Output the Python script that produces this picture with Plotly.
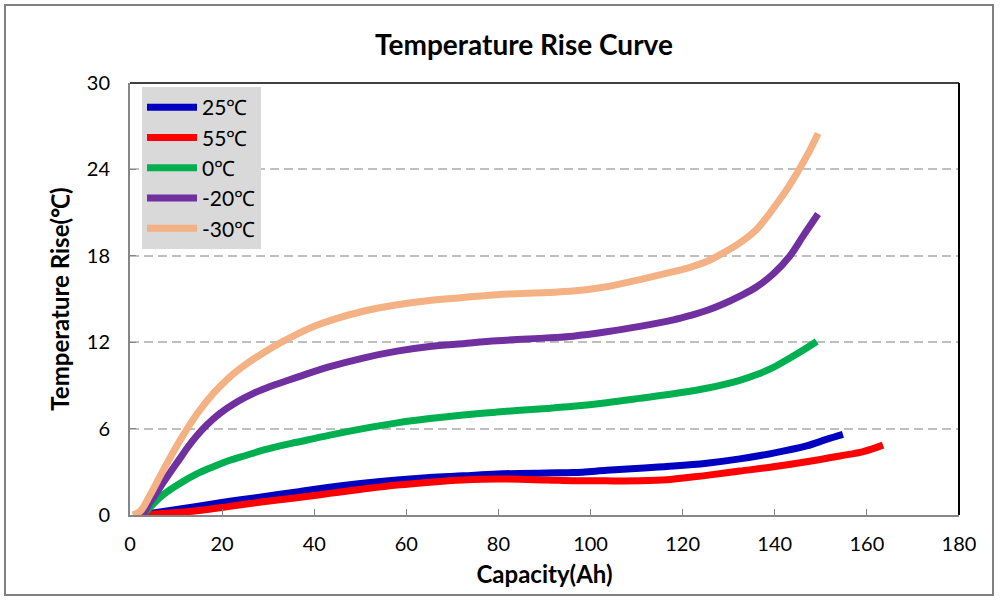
import plotly.graph_objects as go

# ---- data ----
x_25 = [2.0, 8.0, 14.5, 21.7, 28.9, 36.2, 43.4, 50.6, 58.0, 65.1, 72.3, 79.7, 90.5, 96.2, 103.5, 110.7, 118.0, 125.2, 132.4, 139.7, 146.9, 151.2, 154.8]
y_25 = [0.0, 0.28, 0.6, 0.95, 1.27, 1.6, 1.93, 2.2, 2.43, 2.6, 2.72, 2.85, 2.92, 2.95, 3.1, 3.25, 3.4, 3.6, 3.9, 4.3, 4.8, 5.25, 5.6]

x_55 = [2.2, 8.0, 14.5, 21.7, 28.9, 36.2, 43.4, 50.6, 58.0, 65.1, 72.3, 79.7, 90.5, 96.2, 103.5, 110.7, 116.6, 121.6, 125.2, 132.4, 139.7, 146.9, 154.1, 159.2, 163.5]
y_55 = [0.0, 0.12, 0.3, 0.6, 0.92, 1.2, 1.5, 1.8, 2.08, 2.28, 2.43, 2.5, 2.43, 2.38, 2.37, 2.38, 2.45, 2.62, 2.75, 3.05, 3.35, 3.7, 4.1, 4.4, 4.85]

x_0 = [2.9, 5.0, 7.2, 10.9, 14.5, 18.1, 21.7, 25.3, 28.9, 32.6, 36.2, 43.4, 50.6, 58.0, 65.1, 72.3, 79.7, 90.5, 96.2, 103.5, 110.7, 118.0, 125.2, 132.4, 136.1, 139.7, 143.3, 146.9, 149.1]
y_0 = [0.05, 0.75, 1.4, 2.2, 2.85, 3.35, 3.8, 4.15, 4.5, 4.8, 5.05, 5.55, 6.0, 6.4, 6.7, 6.95, 7.15, 7.4, 7.55, 7.8, 8.1, 8.42, 8.8, 9.35, 9.75, 10.25, 10.9, 11.6, 12.05]

x_m20 = [2.9, 4.3, 5.8, 7.2, 8.7, 10.9, 12.3, 14.5, 16.5, 19.5, 23.2, 26.8, 30.4, 34.0, 37.5, 43.4, 50.6, 58.0, 65.1, 72.3, 79.7, 90.5, 96.2, 103.5, 110.7, 118.0, 121.6, 125.2, 128.8, 132.4, 136.1, 139.7, 143.3, 146.2, 149.4]
y_m20 = [0.05, 0.85, 1.55, 2.25, 2.95, 3.95, 4.6, 5.5, 6.2, 7.05, 7.85, 8.45, 8.92, 9.32, 9.7, 10.3, 10.9, 11.38, 11.7, 11.9, 12.1, 12.3, 12.42, 12.72, 13.1, 13.55, 13.85, 14.2, 14.65, 15.2, 15.85, 16.75, 18.0, 19.4, 20.9]

x_m30 = [0.6, 2.2, 4.3, 7.2, 10.9, 14.5, 18.1, 21.7, 25.3, 28.9, 32.6, 36.2, 40.0, 43.4, 50.6, 58.0, 65.0, 72.3, 79.7, 90.5, 96.2, 103.5, 110.7, 118.0, 121.6, 125.2, 128.8, 132.4, 136.1, 139.7, 143.3, 146.9, 149.4]
y_m30 = [0.0, 0.25, 1.35, 3.1, 5.2, 7.0, 8.45, 9.6, 10.5, 11.25, 11.95, 12.55, 13.1, 13.5, 14.15, 14.6, 14.9, 15.1, 15.3, 15.45, 15.55, 15.85, 16.35, 16.9, 17.2, 17.6, 18.2, 18.9, 19.85, 21.3, 22.95, 24.9, 26.5]

series_names = ["25℃", "55℃", "0℃", "-20℃", "-30℃"]
series_x = [x_25, x_55, x_0, x_m20, x_m30]
series_y = [y_25, y_55, y_0, y_m20, y_m30]
series_colors = ["#0000c0", "#ff0000", "#00b050", "#7030a0", "#f4b183"]

x_ticks = [0, 20, 40, 60, 80, 100, 120, 140, 160, 180]
y_ticks = [0, 6, 12, 18, 24, 30]

FONT = "Lato"

fig = go.Figure()
for i, (name, xs, ys, col) in enumerate(zip(series_names, series_x, series_y, series_colors)):
    fig.add_trace(go.Scatter(
        x=xs, y=ys, mode="lines", name=name, legendgroup=f"g{i}",
        line=dict(color=col, width=7, shape="spline", smoothing=1.0),
    ))

ML, MR, MT, MB = 130, 41, 83, 87
W, H = 1000, 602
pw, ph = W - ML - MR, H - MT - MB

def px_to_paper_x(px):
    return (px - ML) / pw

def py_to_paper_y(py):
    return (H - MB - py) / ph

fig.update_layout(
    width=W, height=H,
    margin=dict(l=ML, r=MR, t=MT, b=MB),
    paper_bgcolor="white", plot_bgcolor="white",
    font=dict(family=FONT, color="black", size=19),
    title=dict(text="<b>Temperature Rise Curve</b>", x=0.524, xanchor="center",
               y=1 - 45 / H, yanchor="middle", font=dict(size=28, family=FONT)),
    showlegend=True,
    legend=dict(x=px_to_paper_x(142), y=py_to_paper_y(87), xanchor="left", yanchor="top",
                bgcolor="#d9d9d9", borderwidth=0, font=dict(size=21, family=FONT),
                tracegroupgap=7, itemwidth=50, traceorder="normal"),
)

fig.update_xaxes(
    range=[0, 180], tickvals=x_ticks, ticktext=[str(v) for v in x_ticks],
    showgrid=False, zeroline=False,
    showline=True, linecolor="#868686", linewidth=2,
    ticks="inside", ticklen=6, tickcolor="#868686", tickwidth=1,
    ticklabelstandoff=10, tickfont=dict(size=20, family=FONT),
    title=dict(text="<b>Capacity(Ah)</b>", font=dict(size=24, family=FONT), standoff=12),
)
fig.update_yaxes(
    range=[0, 30], tickvals=y_ticks, ticktext=[str(v) for v in y_ticks],
    showgrid=True, gridcolor="#bfbfbf", griddash="9px,5px", gridwidth=1.5,
    zeroline=False,
    showline=True, linecolor="#868686", linewidth=2,
    ticks="inside", ticklen=6, tickcolor="#868686", tickwidth=1,
    ticklabelstandoff=14, tickfont=dict(size=20, family=FONT),
    title=dict(text="<b>Temperature Rise(℃)</b>", font=dict(size=24, family=FONT), standoff=10),
)

# plot-area border (top and right dark lines)
fig.add_shape(type="line", xref="paper", yref="paper", x0=0, x1=1, y0=1, y1=1,
              line=dict(color="#404040", width=2))
fig.add_shape(type="line", xref="paper", yref="paper", x0=1, x1=1, y0=0, y1=1,
              line=dict(color="#000000", width=2))
# outer chart border
fig.add_shape(type="rect", xref="paper", yref="paper",
              x0=px_to_paper_x(5), x1=px_to_paper_x(993),
              y0=py_to_paper_y(595), y1=py_to_paper_y(5),
              line=dict(color="#808080", width=2), fillcolor="rgba(0,0,0,0)")

fig.write_html("out.html")
